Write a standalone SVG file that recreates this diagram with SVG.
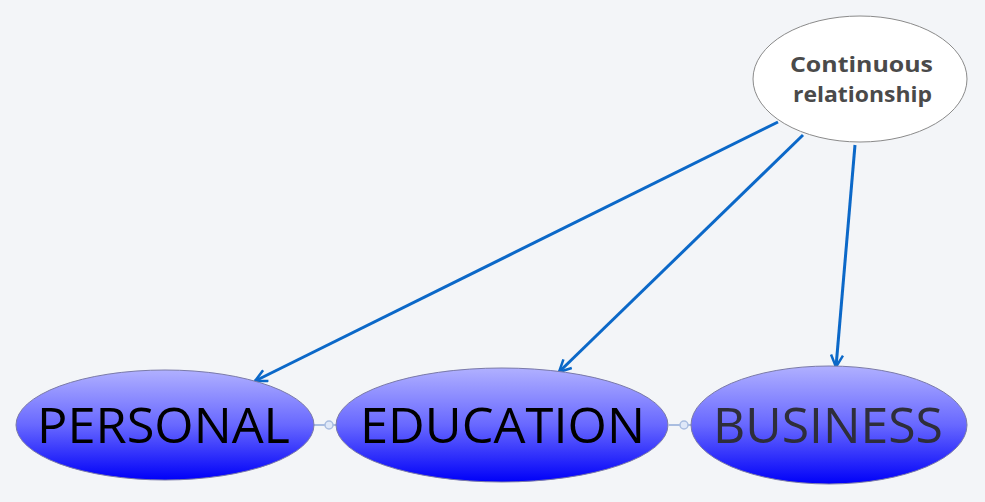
<svg xmlns="http://www.w3.org/2000/svg" width="985" height="502" viewBox="0 0 985 502">
<defs>
<linearGradient id="blueGrad" x1="0" y1="0" x2="0" y2="1">
<stop offset="0" stop-color="#b0b0ff"/>
<stop offset="0.5" stop-color="#6868ff"/>
<stop offset="1" stop-color="#0000f8"/>
</linearGradient>
<marker id="arrow" viewBox="0 0 14 14" refX="13" refY="7" markerWidth="14" markerHeight="14" markerUnits="userSpaceOnUse" orient="auto">
<path d="M1,1 L13,7 L1,13" fill="none" stroke="#0b68c8" stroke-width="2.5"/>
</marker>
</defs>
<style>
.bg{fill:#f3f5f8}
.topic{fill:url(#blueGrad);stroke:#7a7aa8;stroke-width:1}
.label{font-family:"Open Sans","Noto Sans","DejaVu Sans",sans-serif;font-size:49px;text-anchor:middle}
.rel{fill:none;stroke:#0b68c8;stroke-width:3;marker-end:url(#arrow)}
.link{stroke:#a9bde0;stroke-width:2}
.dot{fill:#dfe8f8;stroke:#a9bde0;stroke-width:1.5}
.center{fill:#ffffff;stroke:#8a8a8a;stroke-width:1}
.ctext{font-family:"Open Sans","Noto Sans","DejaVu Sans",sans-serif;font-size:22px;font-weight:bold;fill:#4a4a4a;text-anchor:middle}
</style>
<rect class="bg" x="0" y="0" width="985" height="502"/>
<g id="connectors">
<line class="link" x1="314" y1="425" x2="336" y2="425"/>
<circle class="dot" cx="329" cy="425" r="4"/>
<line class="link" x1="669" y1="425" x2="691" y2="425"/>
<circle class="dot" cx="684" cy="425" r="4"/>
<line class="rel" x1="778" y1="122" x2="255" y2="381"/>
<line class="rel" x1="803" y1="135" x2="559" y2="372"/>
<line class="rel" x1="855" y1="145" x2="836" y2="367"/>
</g>
<g id="continuous">
<ellipse class="center" cx="860" cy="79" rx="107" ry="63"/>
<text class="ctext" x="861.5" y="72" textLength="143" lengthAdjust="spacingAndGlyphs">Continuous</text>
<text class="ctext" x="862.5" y="102" textLength="139" lengthAdjust="spacingAndGlyphs">relationship</text>
</g>
<g id="personal">
<ellipse class="topic" cx="165" cy="425" rx="149" ry="55"/>
<text class="label" x="163.5" y="443" fill="#000000" textLength="253" lengthAdjust="spacingAndGlyphs">PERSONAL</text>
</g>
<g id="education">
<ellipse class="topic" cx="502" cy="425" rx="166" ry="57"/>
<text class="label" x="502.5" y="443" fill="#000000" textLength="285" lengthAdjust="spacingAndGlyphs">EDUCATION</text>
</g>
<g id="business">
<ellipse class="topic" cx="829" cy="425" rx="138" ry="59"/>
<text class="label" x="828" y="443" fill="#2e2e3a" textLength="230" lengthAdjust="spacingAndGlyphs">BUSINESS</text>
</g>
</svg>
